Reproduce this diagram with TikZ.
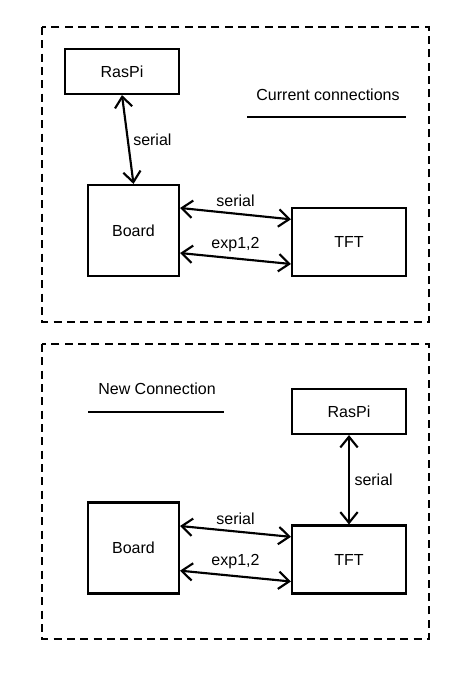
\documentclass[tikz,border=0pt]{standalone}
\usepackage{fontspec}
\setmainfont{Liberation Sans}
\usetikzlibrary{arrows.meta}
\usetikzlibrary{positioning}

\begin{document}
\begin{tikzpicture}[x=0.75pt,y=-0.75pt,{Straight Barb[length=8pt,width=13pt]}-{Straight Barb[length=8pt,width=13pt]},
                    line width=1.6pt,font=\fontsize{12}{14}\selectfont,
                    main node/.style={rectangle,draw,inner sep=0pt},
                    frame/.style={draw,dashed,dash pattern=on 6pt off 4pt,-}]
  \useasboundingbox (0,0) rectangle (474,673);

  % current connections
  \draw[frame] (42,27) rectangle (429,322);
  \node[main node,minimum width=85.5pt,minimum height=33.75pt] (1) at (122,71.5) {RasPi};
  \node[main node,minimum width=68.25pt,minimum height=68.25pt] (2) at (133.5,230.5) {Board};
  \node[main node,minimum width=85.5pt,minimum height=51pt] (3) at (349,242) {TFT};
  \node (t1) at (328,95) {Current connections};
  \draw[-] (247,117) -- (406,117);

  \path[every node/.style={font=\fontsize{12}{14}\selectfont}]
    (1.south) edge node[right] {serial} (2.north)
    ([yshift=16.9pt]2.east) edge node[above=1pt] {serial} ([yshift=17pt]3.west)
    ([yshift=-16.9pt]2.east) edge node[above=1pt] {exp1,2} ([yshift=-16.5pt]3.west);

  % new connection
  \draw[frame] (42,344) rectangle (429,639);
  \node (t2) at (157,389) {New Connection};
  \draw[-] (88,412) -- (224,412);
  \node[main node,minimum width=85.5pt,minimum height=33.75pt] (4) at (349,411.5) {RasPi};
  \node[main node,minimum width=68.25pt,minimum height=68.25pt] (5) at (133.5,548) {Board};
  \node[main node,minimum width=85.5pt,minimum height=51pt] (6) at (349,559.5) {TFT};

  \path[every node/.style={font=\fontsize{12}{14}\selectfont}]
    (4.south) edge node[right] {serial} (6.north)
    ([yshift=16.5pt]5.east) edge node[above=1pt] {serial} ([yshift=17pt]6.west)
    ([yshift=-17pt]5.east) edge node[above=1pt] {exp1,2} ([yshift=-16.5pt]6.west);
\end{tikzpicture}
\end{document}
